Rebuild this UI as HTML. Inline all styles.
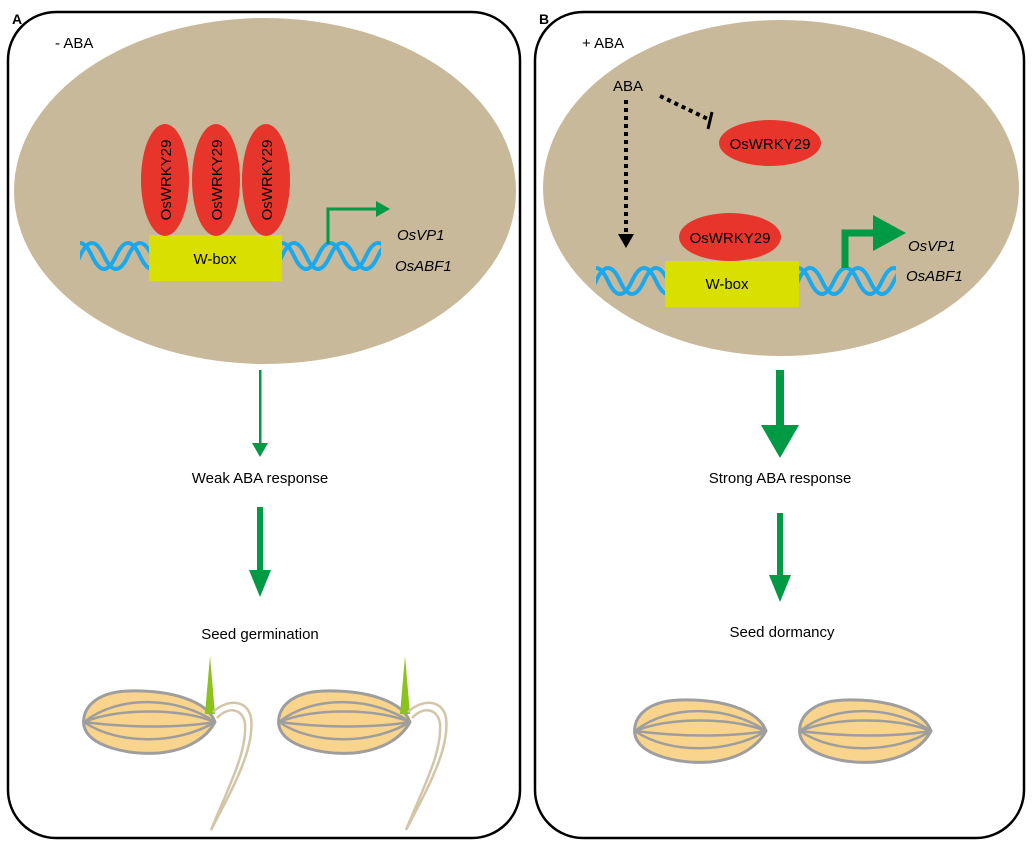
<!DOCTYPE html>
<html><head><meta charset="utf-8"><style>body{margin:0;background:#fff}svg{display:block}text{font-family:"Liberation Sans",sans-serif}</style></head>
<body>
<svg width="1034" height="849" viewBox="0 0 1034 849" xmlns="http://www.w3.org/2000/svg">
<defs>
<g id="seed">
<path d="M66,0 C58,-22 20,-32 -20,-31 C-55,-30 -68,-12 -65,4 C-60,25 -20,33 10,31 C40,28 58,15 66,0 Z" fill="#f9d48c" stroke="#9e9e9e" stroke-width="3"/>
<path d="M-65,0 C-30,-28 30,-25 66,0 M-65,0 C-30,-14 30,-14 66,0 M-65,0 C-20,6 30,6 66,0 M-65,0 C-30,24 30,22 66,0" fill="none" stroke="#9e9e9e" stroke-width="2.5"/>
</g>
<g id="sprout">
<path d="M-8,-4 L-3,-62 L2,-4 Z" fill="#8cc21c"/>
<path d="M0,-6 C15,-20 35,-18 38,0 C42,30 20,70 -2,112 M4,0 C15,-12 30,-10 32,6 C34,35 15,70 -2,112" fill="none" stroke="#d3c6a8" stroke-width="2.5"/>
</g>
<path id="dna1" d="M-60,0 q12,-26 24,0 t24,0 t24,0 t24,0 t24,0 t24,0 t24,0 t24,0 t24,0 t24,0" fill="none" stroke="#1ba9ec" stroke-width="4"/>
<g id="dna"><use href="#dna1"/><use href="#dna1" transform="translate(12,0)"/></g>
<clipPath id="cA1"><rect x="80" y="230" width="70" height="50"/></clipPath>
<clipPath id="cA2"><rect x="281" y="230" width="100" height="50"/></clipPath>
<clipPath id="cB1"><rect x="596" y="255" width="70" height="50"/></clipPath>
<clipPath id="cB2"><rect x="798" y="255" width="98" height="50"/></clipPath>
</defs>

<rect x="8" y="12" width="512" height="826" rx="48" fill="#fff" stroke="#000" stroke-width="2.5"/>
<rect x="535" y="12" width="489" height="826" rx="48" fill="#fff" stroke="#000" stroke-width="2.5"/>
<text x="12" y="24" font-size="14" font-weight="bold">A</text>
<text x="539" y="24" font-size="14" font-weight="bold">B</text>
<text x="55" y="48" font-size="15">- ABA</text>
<text x="582" y="48" font-size="15">+ ABA</text>

<!-- Panel A nucleus -->
<ellipse cx="265" cy="191" rx="251" ry="173" fill="#c8b99a"/>
<g clip-path="url(#cA1)"><g transform="translate(80,256)"><use href="#dna"/></g></g>
<g clip-path="url(#cA2)"><g transform="translate(282,256)"><use href="#dna"/></g></g>
<rect x="149" y="235" width="133" height="46" fill="#d9e000"/>
<text x="215" y="264" font-size="15" text-anchor="middle">W-box</text>
<g fill="#e8352b">
<ellipse cx="165" cy="180" rx="24" ry="56"/>
<ellipse cx="216" cy="180" rx="24" ry="56"/>
<ellipse cx="266" cy="180" rx="24" ry="56"/>
</g>
<g font-size="15">
<text transform="translate(171,180) rotate(-90)" text-anchor="middle">OsWRKY29</text>
<text transform="translate(222,180) rotate(-90)" text-anchor="middle">OsWRKY29</text>
<text transform="translate(272,180) rotate(-90)" text-anchor="middle">OsWRKY29</text>
</g>
<path d="M328,244 V209 H378" fill="none" stroke="#009a44" stroke-width="3"/>
<path d="M376,201 L390,209 L376,217 Z" fill="#009a44"/>
<text x="397" y="240" font-size="15" font-style="italic">OsVP1</text>
<text x="395" y="271" font-size="15" font-style="italic">OsABF1</text>

<!-- A arrows -->
<rect x="259" y="370" width="2.5" height="75" fill="#009a44"/>
<path d="M252,443 L268,443 L260,457 Z" fill="#009a44"/>
<text x="260" y="483" font-size="15" text-anchor="middle">Weak ABA response</text>
<rect x="257" y="507" width="6" height="65" fill="#009a44"/>
<path d="M249,570 L271,570 L260,597 Z" fill="#009a44"/>
<text x="260" y="639" font-size="15" text-anchor="middle">Seed germination</text>
<g transform="translate(149,722)"><use href="#seed"/></g>
<g transform="translate(213,718)"><use href="#sprout"/></g>
<g transform="translate(344,722)"><use href="#seed"/></g>
<g transform="translate(408,718)"><use href="#sprout"/></g>

<!-- Panel B nucleus -->
<ellipse cx="781" cy="188" rx="238" ry="168" fill="#c8b99a"/>
<text x="613" y="91" font-size="15">ABA</text>
<line x1="626" y1="100" x2="626" y2="234" stroke="#000" stroke-width="4" stroke-dasharray="4,4"/>
<path d="M618,234 L634,234 L626,248 Z" fill="#000"/>
<line x1="660" y1="96" x2="710" y2="120" stroke="#000" stroke-width="4" stroke-dasharray="4,4"/>
<line x1="712" y1="112" x2="708" y2="129" stroke="#000" stroke-width="3"/>
<ellipse cx="770" cy="143" rx="51" ry="23" fill="#e8352b"/>
<text x="770" y="149" font-size="15" text-anchor="middle">OsWRKY29</text>
<g clip-path="url(#cB1)"><g transform="translate(596,281)"><use href="#dna"/></g></g>
<g clip-path="url(#cB2)"><g transform="translate(798,281)"><use href="#dna"/></g></g>
<rect x="665" y="261" width="134" height="46" fill="#d9e000"/>
<text x="727" y="289" font-size="15" text-anchor="middle">W-box</text>
<ellipse cx="730" cy="237" rx="51" ry="24" fill="#e8352b"/>
<text x="730" y="243" font-size="15" text-anchor="middle">OsWRKY29</text>
<path d="M845,268 V233 H876" fill="none" stroke="#009a44" stroke-width="7"/>
<path d="M873,215 L906,233 L873,251 Z" fill="#009a44"/>
<text x="908" y="251" font-size="15" font-style="italic">OsVP1</text>
<text x="906" y="281" font-size="15" font-style="italic">OsABF1</text>

<!-- B arrows -->
<rect x="776" y="370" width="8" height="57" fill="#009a44"/>
<path d="M761,425 L799,425 L780,458 Z" fill="#009a44"/>
<text x="780" y="483" font-size="15" text-anchor="middle">Strong ABA response</text>
<rect x="777" y="513" width="6" height="64" fill="#009a44"/>
<path d="M769,575 L791,575 L780,602 Z" fill="#009a44"/>
<text x="782" y="637" font-size="15" text-anchor="middle">Seed dormancy</text>
<g transform="translate(700,731)"><use href="#seed"/></g>
<g transform="translate(865,731)"><use href="#seed"/></g>
</svg>
</body></html>
